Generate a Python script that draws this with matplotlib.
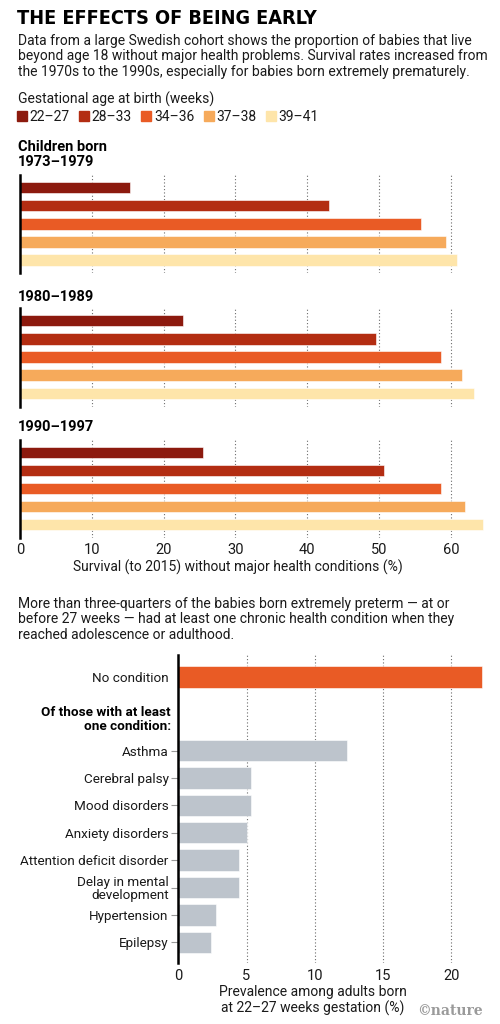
import matplotlib
matplotlib.use("Agg")
import matplotlib.pyplot as plt
from matplotlib.lines import Line2D
import numpy as np

# ---------------- data ----------------
age_groups = ["22–27", "28–33", "34–36", "37–38", "39–41"]
group_colors = ["#8C1A0E", "#B32D12", "#E95B25", "#F6AA5B", "#FEE5AA"]
cohorts = ["1973–1979", "1980–1989", "1990–1997"]
survival_1973 = [15.3, 43.0, 55.8, 59.3, 60.8]
survival_1980 = [22.7, 49.6, 58.7, 61.5, 63.2]
survival_1990 = [25.5, 50.7, 58.6, 62.0, 64.5]
survival = [survival_1973, survival_1980, survival_1990]
top_ticks = [0, 10, 20, 30, 40, 50, 60]

conditions = ["Asthma", "Cerebral palsy", "Mood disorders", "Anxiety disorders",
              "Attention deficit disorder", "Delay in mental\ndevelopment",
              "Hypertension", "Epilepsy"]
condition_values = [12.4, 5.3, 5.3, 5.05, 4.45, 4.45, 2.8, 2.4]
no_condition_label = "No condition"
no_condition_value = 22.3
bottom_ticks = [0, 5, 10, 15, 20]

FONT = "Roboto"
plt.rcParams["font.family"] = [FONT, "DejaVu Sans"]

W, H = 500, 1024
fig = plt.figure(figsize=(W / 100, H / 100), dpi=100)
fig.patch.set_facecolor("white")


def rect(l, t, r, b):
    return [l / W, 1 - b / H, (r - l) / W, (b - t) / H]


def fx(px):
    return px / W


def fy(py):
    return 1 - py / H


TXT = "#1a1a1a"
GRID = "#6b6b6b"
FS = 10
FSY = 9.7

# ---------------- header ----------------
fig.text(fx(17), fy(18), "THE EFFECTS OF BEING EARLY", family=["DejaVu Sans"],
         fontstretch="condensed", weight="bold", fontsize=14.2, va="center", ha="left",
         color="black")
sub1 = ("Data from a large Swedish cohort shows the proportion of babies that live\n"
        "beyond age 18 without major health problems. Survival rates increased from\n"
        "the 1970s to the 1990s, especially for babies born extremely prematurely.")
fig.text(fx(18), fy(34), sub1, fontsize=FS, va="top", ha="left", color=TXT, linespacing=1.12)
fig.text(fx(18), fy(99.5), "Gestational age at birth (weeks)", fontsize=FS, va="center",
         ha="left", color=TXT)

handles = [Line2D([], [], marker="s", linestyle="none", markersize=7,
                  markerfacecolor=c, markeredgecolor=c) for c in group_colors]
fig.legend(handles, age_groups, loc="center left", bbox_to_anchor=(fx(9), fy(117)),
           ncol=5, frameon=False, fontsize=FS, handletextpad=0.05, columnspacing=0.55,
           borderaxespad=0, labelcolor=TXT, handlelength=1.0)

# ---------------- top panels ----------------
panel_boxes = [(175, 273), (308, 406.7), (440, 537.7)]
panel_titles = ["Children born\n1973–1979", "1980–1989", "1990–1997"]
title_y = [140, 290, 420]
ypos = np.arange(len(age_groups))
for i, (vals, (t, b)) in enumerate(zip(survival, panel_boxes)):
    ax = fig.add_axes(rect(20, t, 20 + 65 * 7.18, b))
    ax.barh(ypos, vals, height=0.64, color=group_colors, edgecolor="white",
            linewidth=0.4, zorder=2)
    ax.set_xlim(0, 65)
    ax.set_ylim(4.72, -0.69)
    for xt in top_ticks[1:]:
        ax.axvline(xt, color=GRID, linestyle=(0, (1, 2)), linewidth=0.8, zorder=1)
    for s in ["top", "right", "bottom"]:
        ax.spines[s].set_visible(False)
    ax.spines["left"].set_linewidth(1.8)
    ax.spines["left"].set_color("black")
    ax.spines["left"].set_zorder(3)
    ax.set_yticks([])
    ax.set_xticks(top_ticks)
    ax.tick_params(axis="x", length=0, labelsize=10.5, colors=TXT, pad=4)
    if i < 2:
        ax.set_xticklabels([])
    else:
        ax.set_xlabel("Survival (to 2015) without major health conditions (%)",
                      fontsize=FS, color=TXT, labelpad=3)
        ax.xaxis.set_label_coords((238 - 20) / (65 * 7.18), -0.22)
    ax.patch.set_alpha(0)
    fig.text(fx(18), fy(title_y[i]), panel_titles[i], fontsize=10.5, weight="bold",
             va="top", ha="left", color="black", linespacing=1.12)

# ---------------- bottom section ----------------
sub2 = ("More than three-quarters of the babies born extremely preterm — at or\n"
        "before 27 weeks — had at least one chronic health condition when they\n"
        "reached adolescence or adulthood.")
fig.text(fx(18), fy(597), sub2, fontsize=FS, va="top", ha="left", color=TXT, linespacing=1.12)

n = len(conditions)
cond_pos = np.arange(n)[::-1]          # first condition at top
no_pos = n + 1.68
axb = fig.add_axes(rect(178.3, 655, 178.3 + 22.5 * 13.64, 963))
axb.barh(cond_pos, condition_values, height=0.78, color="#BDC4CC", edgecolor="white",
         linewidth=0.4, zorder=2)
axb.barh([no_pos], [no_condition_value], height=0.8, color="#E95B25", edgecolor="white",
         linewidth=0.4, zorder=2)
axb.set_xlim(0, 22.5)
axb.set_ylim(-0.76, 10.5)
for xt in bottom_ticks[1:]:
    axb.axvline(xt, color=GRID, linestyle=(0, (1, 2)), linewidth=0.8, zorder=1)
for s in ["top", "right", "bottom"]:
    axb.spines[s].set_visible(False)
axb.spines["left"].set_linewidth(1.8)
axb.spines["left"].set_color("black")
axb.spines["left"].set_zorder(3)
axb.set_yticks(list(cond_pos) + [no_pos])
axb.set_yticklabels(conditions + [no_condition_label], fontsize=FSY, color=TXT,
                    linespacing=1.0)
axb.tick_params(axis="y", length=5, width=0.8, color="#999999", pad=2)
axb.yaxis.get_major_ticks()[-1].tick1line.set_visible(False)
axb.set_xticks(bottom_ticks)
axb.tick_params(axis="x", length=0, labelsize=10.5, colors=TXT, pad=4)
axb.set_xlabel("Prevalence among adults born\nat 22–27 weeks gestation (%)", fontsize=FS,
               color=TXT, labelpad=3, linespacing=1.1)
axb.xaxis.set_label_coords((312.7 - 178.3) / (22.5 * 13.64), -0.073)
axb.patch.set_alpha(0)
axb.text(-0.025, n + 0.15, "Of those with at least\none condition:",
         transform=axb.get_yaxis_transform(), ha="right", va="center", fontsize=FSY,
         weight="bold", color="black", linespacing=1.1)

fig.text(fx(483), fy(1011), "©nature", fontsize=10, weight="bold", color="#9a9a9a",
         ha="right", va="center", family=["DejaVu Serif"])

fig.savefig("out.png", dpi=100)
